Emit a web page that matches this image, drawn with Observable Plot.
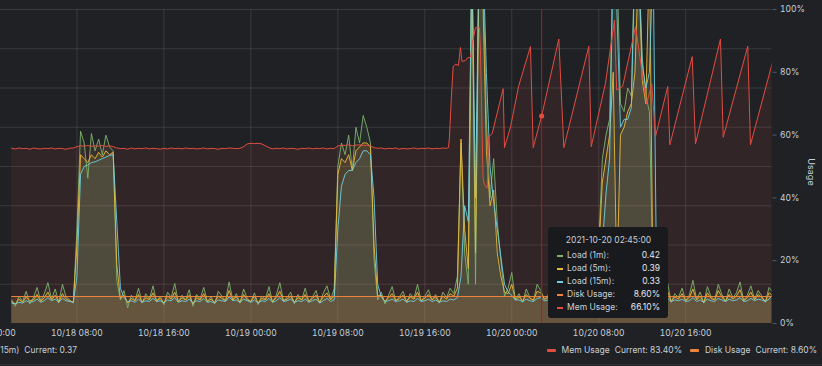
<!DOCTYPE html>
<html><head><meta charset="utf-8">
<script src="https://cdn.jsdelivr.net/npm/d3@7"></script>
<script src="https://cdn.jsdelivr.net/npm/@observablehq/plot@0.6"></script>
<style>
html,body{margin:0;padding:0;background:#1f2125;}
#wrap{position:relative;width:822px;height:366px;overflow:hidden;background:#1f2125;font-family:Inter, Roboto, sans-serif;color:#c7d0d9;}
#chart{position:absolute;left:-60px;top:0;}
#ylabel{position:absolute;left:811px;top:172px;transform:translate(-50%,-50%) rotate(90deg);font-size:9px;color:#c7d0d9;white-space:nowrap;}
.leg{position:absolute;top:345px;font-size:8.5px;white-space:nowrap;display:flex;align-items:center;color:#c7d0d9;}
.leg .sw{display:inline-block;width:9px;height:3px;margin-right:6px;border-radius:1px;}
.leg .cur{margin-left:5px;}
#tip{position:absolute;left:548px;top:227px;width:120px;height:91px;background:#181a1e;border-radius:3px;box-sizing:border-box;padding:7px 8px 0 9px;font-size:8.5px;color:#c7d0d9;}
#tip .tt{text-align:center;margin-bottom:3px;height:12px;line-height:12px;}
#tip .row{display:flex;align-items:center;height:13px;line-height:13px;}
#tip .sw{display:inline-block;width:6px;height:2px;margin-right:4px;}
#tip .lb{flex:1;}
#tip .val{text-align:right;color:#e4e6ea;}
#border{position:absolute;left:0;top:364px;width:822px;height:1px;background:#2e3136;}
</style></head>
<body>
<div id="wrap">
  <div id="chart"></div>
  <div id="ylabel">Usage</div>
  <div id="legLeft" class="leg"></div>
  <div id="legRight" class="leg"></div>
  <div id="tip"></div>
  <div id="border"></div>
</div>
<script>
// ---- time base ----
const baseTime = "2021-10-18T00:00:00";
const loadStartHour = 2;        // first sample 10/18 02:00
const loadStepMinutes = 20;     // sample spacing

// ---- Load (1m) ----
const load1 = [
0.30,0.22,0.35,0.28,0.41,0.25,0.33,0.46,0.29,0.38,
0.52,0.31,0.44,0.27,0.50,0.34,0.30,0.26,
1.20,2.45,2.30,1.85,2.42,2.20,2.35,2.15,2.40,2.25,2.20,0.55,0.30,
0.42,0.20,0.36,0.29,0.45,0.26,0.38,0.31,0.48,
0.28,0.35,0.24,0.40,0.33,0.51,0.27,0.36,0.30,0.43,
0.22,0.37,0.31,0.46,0.28,0.34,0.25,0.41,0.35,0.29,
0.53,0.30,0.38,0.26,0.44,0.32,0.28,0.39,0.24,0.35,
0.31,0.47,0.27,0.36,0.52,0.29,0.33,0.40,0.25,0.37,
0.30,0.45,0.28,0.34,0.42,0.26,0.39,0.48,0.31,0.44,
2.00,2.30,2.15,2.40,1.95,2.50,2.30,2.65,2.50,2.30,
0.80,0.30,0.40,0.25,0.36,0.47,0.29,0.34,0.41,0.27,
0.38,0.32,0.50,0.28,0.35,0.43,0.30,0.37,0.26,0.40,
0.33,0.45,0.38,0.60,2.30,0.90,0.50,4.80,0.50,4.80,
4.60,2.60,1.60,2.10,1.30,0.80,0.35,0.45,0.65,0.30,
0.38,0.27,0.44,0.33,0.29,0.50,0.42,0.31,0.36,0.47,
0.28,0.40,0.34,0.25,0.48,0.32,0.37,0.29,0.43,0.35,
0.30,0.46,1.00,2.10,2.40,2.60,4.80,4.70,2.80,2.70,
3.00,2.90,4.80,4.70,3.40,2.90,2.70,0.50,0.35,0.42,
0.30,0.52,0.27,0.38,0.33,0.45,0.29,0.36,0.55,0.31,
0.40,0.26,0.47,0.34,0.30,0.50,0.37,0.28,0.44,0.33,
0.39,0.53,0.29,0.36,0.48,0.31,0.42,0.35,0.27,0.46,0.40];

// ---- Load (5m) ----
const load5 = [
0.28,0.25,0.31,0.27,0.34,0.29,0.30,0.37,0.28,0.33,
0.40,0.30,0.36,0.27,0.38,0.31,0.29,0.27,
1.00,2.15,2.10,2.05,2.15,2.10,2.18,2.12,2.20,2.15,2.18,0.75,0.32,
0.36,0.26,0.32,0.29,0.37,0.27,0.33,0.30,0.39,
0.29,0.32,0.26,0.35,0.31,0.40,0.28,0.33,0.30,0.36,
0.25,0.33,0.30,0.38,0.28,0.31,0.27,0.35,0.32,0.29,
0.42,0.30,0.34,0.27,0.37,0.30,0.28,0.35,0.26,0.32,
0.30,0.38,0.28,0.33,0.41,0.29,0.31,0.35,0.27,0.33,
0.30,0.37,0.28,0.32,0.36,0.27,0.34,0.39,0.30,0.36,
1.90,2.10,2.05,2.15,1.95,2.20,2.25,2.30,2.30,2.25,
1.00,0.35,0.36,0.28,0.33,0.38,0.29,0.32,0.36,0.28,
0.34,0.31,0.40,0.29,0.32,0.37,0.30,0.34,0.27,0.35,
0.31,0.38,0.35,0.45,2.35,1.20,0.70,4.60,0.90,4.80,
4.20,2.20,1.50,1.70,0.90,0.60,0.40,0.38,0.50,0.30,
0.34,0.29,0.37,0.32,0.30,0.41,0.39,0.31,0.33,0.38,
0.29,0.35,0.32,0.27,0.39,0.31,0.34,0.29,0.37,0.33,
0.30,0.38,0.90,1.80,2.10,2.40,3.20,0.50,2.40,2.50,
2.70,2.80,3.20,4.60,3.10,2.80,4.70,0.40,0.30,0.36,
0.30,0.41,0.28,0.34,0.31,0.38,0.29,0.33,0.44,0.30,
0.35,0.27,0.39,0.32,0.30,0.42,0.34,0.28,0.37,0.31,
0.35,0.43,0.29,0.33,0.40,0.30,0.37,0.33,0.28,0.39,0.36];

// ---- Load (15m) ----
const load15 = [
0.26,0.25,0.27,0.26,0.29,0.27,0.28,0.31,0.27,0.29,
0.33,0.29,0.31,0.27,0.32,0.29,0.28,0.27,
0.60,1.90,2.00,2.02,2.05,2.06,2.08,2.10,2.12,2.14,2.15,1.30,0.45,
0.33,0.28,0.29,0.27,0.31,0.27,0.29,0.28,0.32,
0.28,0.29,0.26,0.30,0.29,0.33,0.27,0.29,0.28,0.31,
0.26,0.29,0.28,0.32,0.27,0.28,0.26,0.30,0.29,0.28,
0.34,0.29,0.30,0.27,0.31,0.29,0.27,0.30,0.26,0.29,
0.28,0.32,0.27,0.29,0.33,0.28,0.29,0.31,0.27,0.29,
0.28,0.31,0.27,0.29,0.31,0.26,0.29,0.32,0.28,0.30,
1.20,1.75,1.90,1.95,1.95,2.05,2.10,2.20,2.20,2.15,
1.60,0.50,0.34,0.28,0.29,0.31,0.28,0.29,0.31,0.27,
0.29,0.28,0.32,0.28,0.29,0.31,0.28,0.30,0.27,0.29,
0.28,0.31,0.30,0.33,0.60,1.50,1.30,4.70,1.60,4.80,
4.80,3.20,2.00,1.55,1.20,0.85,0.50,0.40,0.36,0.30,
0.30,0.28,0.31,0.29,0.28,0.32,0.33,0.29,0.30,0.31,
0.28,0.30,0.29,0.27,0.31,0.29,0.30,0.28,0.31,0.29,
0.28,0.31,0.40,1.00,1.65,2.10,4.70,4.00,2.50,2.60,
2.60,2.75,4.70,4.60,3.30,3.00,3.20,4.70,0.40,0.33,
0.29,0.32,0.28,0.30,0.29,0.31,0.28,0.29,0.33,0.28,
0.30,0.27,0.31,0.29,0.28,0.32,0.30,0.28,0.31,0.29,
0.30,0.33,0.28,0.29,0.32,0.29,0.31,0.30,0.28,0.31,0.37];

// ---- Mem Usage (%) : 20-min samples 10/18 02:00 .. 10/19 18:00, then hand-read vertices ----
const memBase = [
55.8,55.6,55.9,55.7,55.8,55.5,55.9,55.7,55.6,55.8,
55.7,55.9,55.6,55.8,55.7,55.5,55.8,55.9,
56.3,56.6,56.5,56.7,56.4,56.6,56.5,56.7,56.4,56.6,56.3,55.9,
55.7,55.8,55.5,55.9,55.6,55.8,55.7,55.9,55.6,55.8,
55.7,55.5,55.8,55.6,55.9,55.7,55.8,55.6,55.9,55.7,
55.8,55.6,55.7,55.9,55.6,55.8,55.7,55.5,55.8,55.7,
55.9,55.8,55.7,55.8,56.3,57.2,57.4,57.3,57.4,57.2,56.6,56.0,
55.6,55.8,55.7,55.9,55.6,55.8,55.7,55.5,
55.8,55.7,55.9,55.6,55.8,55.7,55.9,55.6,55.8,55.7,
56.5,56.8,56.7,56.9,56.6,56.8,56.9,56.7,56.8,56.6,
56.0,55.8,55.9,55.6,55.8,55.7,55.9,55.5,55.8,55.6,
55.7,55.9,55.6,55.8,55.7,55.9,55.6,55.8,55.7,55.9,55.8];
const memTailHours = [42.18,42.27,42.43,42.61,42.82,43.10,43.28,43.42,43.74,43.93,44.20,44.39,44.66,45.03,45.12,45.36,45.49,45.74,45.86,46.20,46.66,47.21,47.33,47.88,48.62,49.72,49.97,50.75,52.33,52.79,55.09,55.31,56.62,57.45,57.65,58.20,59.39,60.40,60.88,61.22,62.35,62.54,64.60,64.90,67.20,67.45,69.71,69.96,72.00];
const memTailValues = [56.0,59.4,71.0,81.8,82.6,82.2,87.9,83.5,83.7,84.6,84.8,89.5,94.2,94.2,87.2,46.3,44.2,43.1,59.4,60.5,67.0,74.8,56.0,62.5,75.4,88.2,56.0,66.1,90.6,56.0,88.3,56.3,76.5,96.6,74.4,75.5,94.5,70.0,76.3,59.5,75.5,56.9,85.0,57.2,90.6,59.3,88.3,56.9,83.4];

// ---- Disk Usage (%) : flat ----
const diskHours = [2, 72];
const diskValues = [8.6, 8.6];

// ---- axes / annotation ----
const xTickHours = [0, 8, 16, 24, 32, 40, 48, 56, 64];
const yGridLoad = [0.5, 1, 1.5, 2, 2.5, 3, 3.5, 4];
const yPctTicks = [0, 20, 40, 60, 80, 100];
const hoverHour = 50.75;   // 2021-10-20 02:45:00
const hoverIndex = 146;
const hoverLabel = "2021-10-20 02:45:00";
const loadMax = 4;         // left (load) axis max; percent axis 0..100 maps onto it

// ---- build tables ----
const t0 = new Date(baseTime).getTime();
const hour = h => new Date(t0 + h * 3600e3);
const loadT = i => hour(loadStartHour + i * loadStepMinutes / 60);
const pct = v => v * loadMax / 100;
const L1 = load1.map((v, i) => ({t: loadT(i), v}));
const L5 = load5.map((v, i) => ({t: loadT(i), v}));
const L15 = load15.map((v, i) => ({t: loadT(i), v}));
const MEM = memBase.map((v, i) => ({t: loadT(i), v: pct(v)}))
  .concat(memTailHours.map((h, i) => ({t: hour(h), v: pct(memTailValues[i])})));
const DISK = diskHours.map((h, i) => ({t: hour(h), v: pct(diskValues[i])}));

const C = {l1: "#7EB26D", l5: "#EAB839", l15: "#6ED0E0", disk: "#EF843C", mem: "#E24D42"};
const fmt = d3.timeFormat("%m/%d %H:%M");

const chart = Plot.plot({
  width: 882, height: 366,
  marginLeft: 38.6, marginRight: 50.5, marginTop: 9, marginBottom: 43,
  style: {background: "transparent", color: "#c7d0d9", fontFamily: "Inter, Roboto, sans-serif", fontSize: "8.5px"},
  x: {domain: [hour(-1), hour(71.94)]},
  y: {domain: [0, loadMax]},
  marks: [
    Plot.gridY(yGridLoad, {stroke: "#ffffff", strokeOpacity: 0.11}),
    Plot.gridX(xTickHours.map(hour), {stroke: "#ffffff", strokeOpacity: 0.11}),
    Plot.areaY(MEM, {x: "t", y: "v", fill: C.mem, fillOpacity: 0.1, clip: true}),
    Plot.areaY(DISK, {x: "t", y: "v", fill: C.disk, fillOpacity: 0.16, clip: true}),
    Plot.areaY(L1, {x: "t", y: "v", fill: C.l1, fillOpacity: 0.08, clip: true}),
    Plot.areaY(L5, {x: "t", y: "v", fill: C.l5, fillOpacity: 0.12, clip: true}),
    Plot.areaY(L15, {x: "t", y: "v", fill: C.l15, fillOpacity: 0.08, clip: true}),
    Plot.lineY(L1, {x: "t", y: "v", stroke: C.l1, strokeWidth: 1, strokeOpacity: 0.9, clip: true}),
    Plot.lineY(L5, {x: "t", y: "v", stroke: C.l5, strokeWidth: 1, strokeOpacity: 0.9, clip: true}),
    Plot.lineY(L15, {x: "t", y: "v", stroke: C.l15, strokeWidth: 1, strokeOpacity: 0.9, clip: true}),
    Plot.lineY(MEM, {x: "t", y: "v", stroke: C.mem, strokeWidth: 1, clip: true}),
    Plot.lineY(DISK, {x: "t", y: "v", stroke: C.disk, strokeWidth: 1, clip: true}),
    Plot.ruleX([hour(hoverHour)], {stroke: "#b8161b", strokeWidth: 1}),
    Plot.dot([{t: hour(hoverHour), v: pct(66.1)}], {x: "t", y: "v", r: 1.8, stroke: C.mem, fill: C.mem}),
    Plot.axisX({ticks: xTickHours.map(hour), tickFormat: fmt, tickSize: 0, tickPadding: 6, label: null}),
    Plot.axisY({anchor: "right", ticks: yPctTicks.map(pct), tickFormat: d => Math.round(d * 100 / loadMax) + "%",
      tickSize: 4, tickPadding: 4, label: null, stroke: "#55585e"})
  ]
});
document.getElementById("chart").appendChild(chart);

// ---- tooltip ----
const tipRows = [
  ["Load (1m):", C.l1, load1[hoverIndex].toFixed(2)],
  ["Load (5m):", C.l5, load5[hoverIndex].toFixed(2)],
  ["Load (15m):", C.l15, load15[hoverIndex].toFixed(2)],
  ["Disk Usage:", C.disk, diskValues[0].toFixed(2) + "%"],
  ["Mem Usage:", C.mem, memTailValues[memTailHours.indexOf(hoverHour)].toFixed(2) + "%"]
];
const tip = document.getElementById("tip");
tip.innerHTML = `<div class="tt">${hoverLabel}</div>` + tipRows.map(([n, c, v]) =>
  `<div class="row"><span class="sw" style="background:${c}"></span><span class="lb">${n}</span><span class="val">${v}</span></div>`).join("");

// ---- legend ----
const legL = document.getElementById("legLeft");
legL.style.right = (822 - 77) + "px";
legL.innerHTML = `<span class="sw" style="background:${C.l15}"></span>Load (15m)<span class="cur">Current: ${load15[load15.length - 1].toFixed(2)}</span>`;
const legR = document.getElementById("legRight");
legR.style.right = "5px";
legR.innerHTML = `<span class="sw" style="background:${C.mem}"></span>Mem Usage<span class="cur">Current: ${memTailValues[memTailValues.length - 1].toFixed(2)}%</span>` +
  `<span class="sw" style="background:${C.disk};margin-left:8px"></span>Disk Usage<span class="cur">Current: ${diskValues[diskValues.length - 1].toFixed(2)}%</span>`;
</script>
</body></html>
